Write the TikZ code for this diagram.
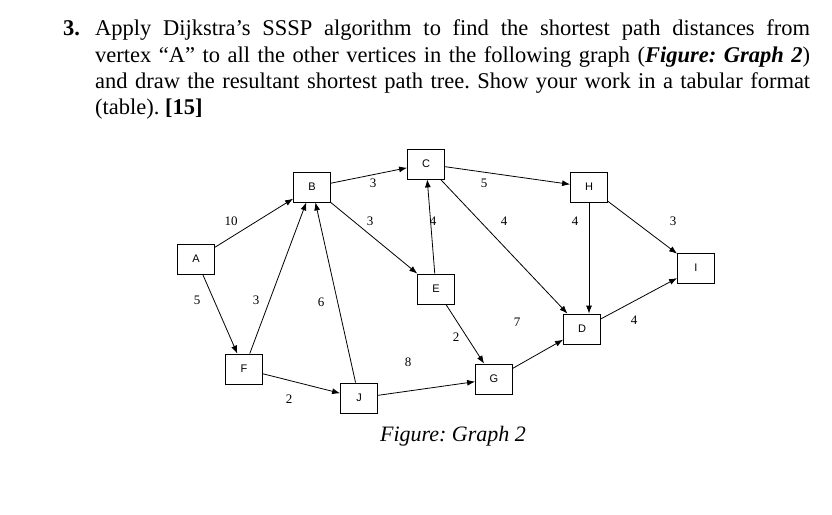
\documentclass[tikz,border=0pt]{standalone}
\usepackage{fontspec}
\setmainfont{Liberation Serif}
\newfontfamily\lblfont{Liberation Sans}
\usetikzlibrary{arrows.meta}

\tikzset{
  vtx/.style={draw, thick, minimum width=37pt, minimum height=30pt, inner sep=0pt, font=\lblfont\fontsize{11}{11}\selectfont},
  edg/.style={thick, -{Latex[length=8pt,width=6pt]}},
  wt/.style={font=\fontsize{13}{13}\selectfont},
  txt/.style={anchor=base west, inner sep=0pt, font=\fontsize{22.5}{22}\selectfont\frenchspacing}
}

\begin{document}
\begin{tikzpicture}[x=1pt, y=-1pt]
            \useasboundingbox (0,0) rectangle (832,514);

            \node[txt] (num) at (63,35) {\textbf{3.}};
            \node[txt] (l1) at (95,35) {\makebox[715pt][s]{Apply Dijkstra’s SSSP algorithm to find the shortest path distances from}};
            \node[txt] (l2) at (95,62) {\makebox[715pt][s]{vertex “A” to all the other vertices in the following graph (\textbf{\textit{Figure: Graph 2}})}};
            \node[txt] (l3) at (95,88) {\makebox[715pt][s]{and draw the resultant shortest path tree. Show your work in a tabular format}};
            \node[txt] (l4) at (95,114) {(table). \textbf{[15]}};

            \node[vtx] (A) at (196,259) {A};
            \node[vtx] (B) at (312,187) {B};
            \node[vtx] (C) at (426,164) {C};
            \node[vtx] (H) at (589,187) {H};
            \node[vtx] (I) at (696,268) {I};
            \node[vtx] (E) at (436,289) {E};
            \node[vtx] (D) at (582,329) {D};
            \node[vtx] (G) at (494,379) {G};
            \node[vtx] (F) at (244,369) {F};
            \node[vtx] (J) at (359,398) {J};

            \draw[edg] (A) -- (B);
            \draw[edg] (A) -- (F);
            \draw[edg] (F) -- (B);
            \draw[edg] (J) -- (B);
            \draw[edg] (B) -- (C);
            \draw[edg] (B) -- (E);
            \draw[edg] (E) -- (C);
            \draw[edg] (C) -- (H);
            \draw[edg] (C) -- (D);
            \draw[edg] (H) -- (H|-D.north);
            \draw[edg] (H) -- (I);
            \draw[edg] (D) -- (I);
            \draw[edg] (E) -- (G);
            \draw[edg] (G) -- (D);
            \draw[edg] (F) -- (J);
            \draw[edg] (J) -- (G);

            \node[wt] (wAB) at (231,221) {10};
            \node[wt] (wAF) at (197,300) {5};
            \node[wt] (wFB) at (256,300) {3};
            \node[wt] (wJB) at (321,302) {6};
            \node[wt] (wBC) at (373,183) {3};
            \node[wt] (wBE) at (370,221) {3};
            \node[wt] (wEC) at (433,221) {4};
            \node[wt] (wCH) at (484,183) {5};
            \node[wt] (wCD) at (504,221) {4};
            \node[wt] (wHD) at (575,221) {4};
            \node[wt] (wHI) at (673,221) {3};
            \node[wt] (wDI) at (634,320) {4};
            \node[wt] (wEG) at (456,337) {2};
            \node[wt] (wGD) at (517,322) {7};
            \node[wt] (wJG) at (408,362) {8};
            \node[wt] (wFJ) at (289,399) {2};

            \node[font=\fontsize{22}{22}\selectfont\itshape\frenchspacing] (cap) at (453,436) {Figure: Graph 2};
\end{tikzpicture}
\end{document}
